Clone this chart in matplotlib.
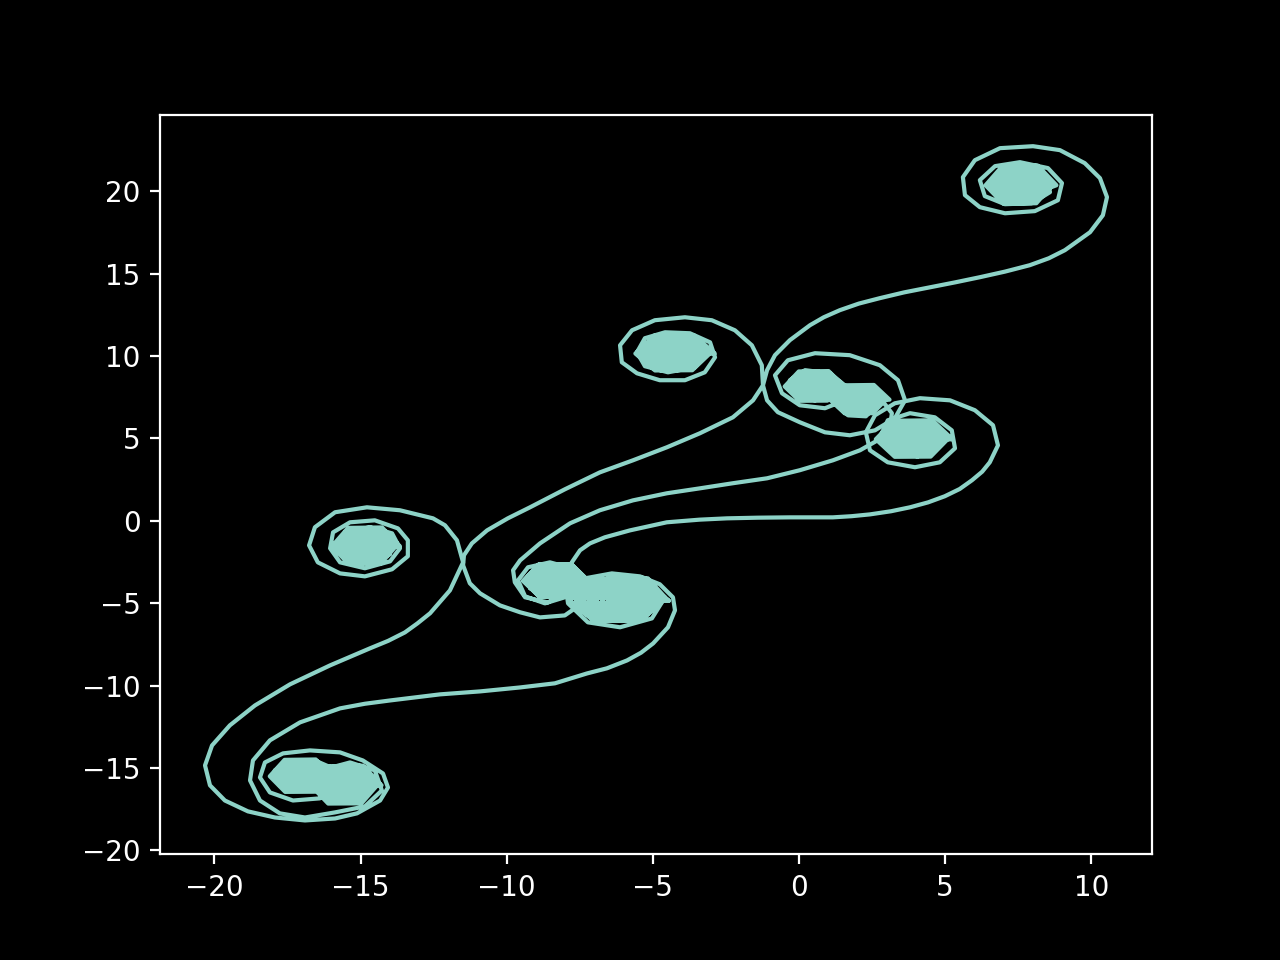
import numpy as np
import matplotlib
matplotlib.use("Agg")
import matplotlib.pyplot as plt

# Curve, in data units, piece by piece.
# Outer turns of every spiral are traced point by point; the tightly wound
# centres (which read as solid blobs) use one typed hexagonal spiral,
# stretched to the size of each blob.

core_unit = [(1.00, 0.00), (0.49, 0.85), (-0.48, 0.83), (-0.94, 0.00), (-0.46, -0.79), (0.45, -0.78),
             (0.88, 0.00), (0.43, 0.74), (-0.42, 0.72), (-0.81, 0.00), (-0.40, -0.69), (0.39, -0.67),
             (0.75, 0.00), (0.36, 0.63), (-0.35, 0.61), (-0.69, 0.00), (-0.33, -0.58), (0.32, -0.56),
             (0.63, 0.00), (0.30, 0.52), (-0.29, 0.51), (-0.56, 0.00), (-0.27, -0.47), (0.26, -0.45),
             (0.50, 0.00), (0.24, 0.41), (-0.23, 0.40), (-0.44, 0.00), (-0.21, -0.36), (0.20, -0.34),
             (0.38, 0.00), (0.18, 0.31), (-0.17, 0.29), (-0.31, 0.00), (-0.15, -0.25), (0.14, -0.23),
             (0.25, 0.00), (0.11, 0.20), (-0.10, 0.18), (-0.19, 0.00), (-0.08, -0.14), (0.07, -0.13),
             (0.13, 0.00), (0.05, 0.09), (-0.04, 0.07), (-0.06, 0.00), (-0.02, -0.04), (0.00, 0.00)]

# blob centres and half sizes (x, y, rx, ry)
core_b = (-14.85, -1.55, 1.20, 1.35)
core_a1 = (-17.07, -15.50, 1.10, 1.20)
core_a2 = (-15.53, -16.05, 1.25, 1.40)
core_c1 = (-8.35, -3.65, 1.15, 1.20)
core_c2 = (-6.20, -4.85, 1.75, 1.55)
core_d = (-4.28, 10.15, 1.40, 1.30)
core_e1 = (0.50, 8.15, 1.05, 1.10)
core_e2 = (2.05, 7.35, 1.05, 1.05)
core_f = (3.90, 4.95, 1.35, 1.35)
core_g = (7.56, 20.36, 1.25, 1.40)

# --- first curve: B -> A -> C -> F ---
spiral_b = [(-14.85, -1.67), (-14.81, -1.37), (-14.54, -1.67), (-14.95, -1.91), (-15.16, -1.43),
            (-14.61, -1.06), (-14.27, -1.55), (-14.68, -2.15), (-15.36, -1.97), (-15.43, -1.18),
            (-14.74, -0.70), (-14.06, -1.06), (-13.99, -2.03), (-14.68, -2.58), (-15.43, -2.40),
            (-15.81, -1.55), (-15.53, -0.70), (-14.68, -0.39), (-13.92, -0.76), (-13.65, -1.67),
            (-13.99, -2.46), (-14.85, -2.88), (-15.70, -2.52), (-16.04, -1.67), (-15.94, -0.70),
            (-15.36, -0.09), (-14.51, 0.03), (-13.72, -0.46), (-13.38, -1.18), (-13.38, -2.15),
            (-13.92, -2.94), (-14.85, -3.37), (-15.70, -3.19), (-16.46, -2.52), (-16.76, -1.49),
            (-16.56, -0.39), (-15.87, 0.52), (-14.78, 0.82), (-13.65, 0.64), (-12.52, 0.15),
            (-12.11, -0.27), (-11.70, -1.18), (-11.49, -2.52)]
arc_b_a = [(-11.94, -4.22), (-12.62, -5.61), (-13.05, -6.22), (-13.48, -6.77), (-14.05, -7.28),
           (-14.68, -7.74), (-15.35, -8.25), (-16.04, -8.77),
           (-17.41, -9.92), (-18.61, -11.20), (-19.47, -12.41), (-20.08, -13.63), (-20.32, -14.84),
           (-20.15, -16.05), (-19.64, -16.97), (-18.85, -17.63), (-17.93, -18.00), (-16.90, -18.18),
           (-15.87, -18.06), (-15.12, -17.75), (-14.33, -16.97), (-14.06, -16.18), (-14.23, -15.33),
           (-14.92, -14.54), (-15.70, -14.05), (-16.73, -13.93), (-17.65, -14.11), (-18.27, -14.66),
           (-18.44, -15.57), (-18.10, -16.48), (-17.31, -16.97), (-16.39, -16.84), (-15.87, -16.05),
           (-15.94, -15.02), (-16.56, -14.54), (-17.41, -14.54), (-17.93, -15.14), (-17.76, -16.05),
           (-17.07, -16.36), (-16.39, -15.87), (-16.32, -15.02), (-17.00, -14.72), (-17.58, -15.27),
           (-17.34, -15.99), (-16.73, -15.81), (-16.80, -15.14), (-17.24, -15.27), (-17.07, -15.57)]
spiral_a2 = [(-15.53, -16.05), (-15.36, -15.75), (-15.12, -16.18), (-15.53, -16.54), (-15.94, -16.05),
             (-15.77, -15.39), (-15.16, -15.27), (-14.74, -16.05), (-15.09, -16.84), (-15.87, -16.97),
             (-16.32, -16.12), (-16.11, -15.02), (-15.36, -14.66), (-14.51, -15.14), (-14.27, -16.36),
             (-14.85, -17.33), (-15.87, -17.69), (-16.90, -18.00), (-17.76, -17.75), (-18.44, -16.97),
             (-18.78, -15.75), (-18.68, -14.54), (-18.10, -13.32), (-17.07, -12.23), (-15.70, -11.38),
             (-14.85, -11.10), (-13.99, -10.90), (-12.28, -10.53), (-10.91, -10.35), (-9.54, -10.11),
             (-8.35, -9.86), (-7.25, -9.26), (-6.57, -8.95), (-5.88, -8.47), (-5.40, -8.00),
             (-4.99, -7.44), (-4.48, -6.46), (-4.24, -5.43), (-4.31, -4.64)]
spiral_c2_in = [(-4.76, -3.85), (-5.44, -3.37), (-6.40, -3.19), (-7.32, -3.49), (-7.90, -4.22),
                (-7.77, -5.13), (-6.98, -5.74), (-5.85, -5.86), (-4.93, -5.43), (-4.65, -4.70),
                (-5.17, -4.10), (-6.06, -3.91), (-6.88, -4.22), (-7.05, -4.95), (-6.40, -5.31),
                (-5.51, -5.13), (-5.34, -4.58), (-5.95, -4.34), (-6.53, -4.64), (-6.12, -4.89)]
spiral_c2_out = [(-6.06, -4.70), (-5.78, -4.83), (-6.06, -5.25), (-6.53, -5.01), (-6.47, -4.22),
                 (-5.85, -4.04), (-5.27, -4.64), (-5.61, -5.55), (-6.47, -5.86), (-7.22, -5.13),
                 (-7.15, -3.91), (-6.29, -3.31), (-5.17, -3.49), (-4.58, -4.64), (-5.03, -5.92),
                 (-6.12, -6.46), (-7.22, -6.16), (-7.90, -5.01), (-8.01, -3.61), (-7.77, -2.52),
                 (-7.49, -1.79), (-7.15, -1.37)]
arc_c_f = [(-6.64, -1.00), (-5.78, -0.58), (-4.52, -0.09), (-3.40, 0.07), (-2.46, 0.15),
           (-1.40, 0.19), (-0.31, 0.21), (1.16, 0.21), (1.80, 0.28), (2.43, 0.39),
           (3.15, 0.58), (3.80, 0.82), (4.42, 1.12), (4.99, 1.49), (5.50, 1.93),
           (5.92, 2.46), (6.27, 2.98), (6.53, 3.55), (6.81, 4.58), (6.64, 5.80),
           (6.02, 6.71), (5.17, 7.31), (4.14, 7.44), (3.28, 7.13), (2.60, 6.40),
           (2.29, 5.37), (2.43, 4.28), (3.04, 3.55), (3.97, 3.25), (4.82, 3.55),
           (5.34, 4.40), (5.23, 5.49), (4.65, 6.28), (3.80, 6.53), (3.04, 6.10),
           (2.77, 5.07), (3.22, 4.16), (4.07, 3.91), (4.82, 4.52), (4.82, 5.49),
           (4.14, 5.92), (3.39, 5.49), (3.35, 4.64), (3.97, 4.40), (3.87, 4.83)]

# --- second curve: D -> C -> E -> G ---
spiral_d = [(-4.24, 10.05), (-4.17, 9.86), (-4.52, 10.05), (-4.14, 10.47), (-3.66, 10.05),
            (-4.07, 9.50), (-4.76, 9.62), (-4.93, 10.47), (-4.34, 10.96), (-3.63, 10.83),
            (-3.22, 10.17), (-3.56, 9.32), (-4.48, 9.01), (-5.27, 9.38), (-5.54, 10.23),
            (-5.27, 11.08), (-4.58, 11.44), (-3.73, 11.38), (-3.04, 10.83), (-2.87, 9.92),
            (-3.22, 9.01), (-3.90, 8.53), (-4.76, 8.53), (-5.54, 8.95), (-6.06, 9.62),
            (-6.12, 10.65), (-5.71, 11.56), (-4.93, 12.17), (-3.90, 12.35), (-2.98, 12.17),
            (-2.19, 11.56), (-1.61, 10.65), (-1.27, 9.44), (-1.23, 8.22)]
arc_d_c = [(-1.57, 7.31), (-2.26, 6.28), (-3.39, 5.31), (-4.52, 4.46), (-5.68, 3.67),
           (-6.81, 2.94), (-8.01, 1.91), (-9.20, 0.82), (-9.96, 0.15), (-10.67, -0.58),
           (-11.19, -1.37), (-11.46, -2.09), (-11.49, -2.70), (-11.26, -3.79), (-10.91, -4.40),
           (-10.23, -5.13), (-9.54, -5.55), (-8.86, -5.86)]
spiral_c1_in = [(-8.01, -5.74), (-7.42, -5.01), (-7.32, -3.91), (-7.77, -2.88), (-8.52, -2.52),
                (-9.27, -2.82), (-9.61, -3.61), (-9.37, -4.58), (-8.69, -5.01), (-8.01, -4.64),
                (-7.83, -3.73), (-8.35, -3.00), (-9.03, -3.19), (-9.20, -4.10), (-8.59, -4.46),
                (-8.18, -3.91), (-8.52, -3.43), (-8.52, -3.79)]
spiral_c1_out = [(-8.79, -3.61), (-8.59, -3.00), (-8.01, -3.31), (-7.94, -4.34), (-8.59, -4.95),
                 (-9.37, -4.64), (-9.72, -3.73), (-9.78, -3.00), (-9.54, -2.40), (-8.86, -1.37)]
arc_c_e = [(-7.83, -0.15), (-6.81, 0.64), (-5.68, 1.24), (-4.52, 1.67), (-3.39, 1.97),
           (-2.26, 2.28), (-1.09, 2.58), (0.03, 3.07), (1.16, 3.67), (2.09, 4.28),
           (2.70, 4.89), (3.11, 5.61), (3.18, 6.53), (2.84, 7.31), (2.26, 7.80)]
spiral_e2 = [(1.57, 7.68), (1.33, 6.95), (1.68, 6.40), (2.29, 6.34), (2.63, 6.95),
             (2.36, 7.50), (1.85, 7.44), (1.81, 6.89), (2.22, 6.83), (2.16, 7.25)]
spiral_e1 = [(0.55, 8.04), (0.79, 8.16), (0.55, 7.74), (0.14, 8.04), (0.44, 8.65),
             (1.06, 8.53), (1.16, 7.68), (0.55, 7.31), (-0.14, 7.62), (-0.31, 8.53),
             (0.21, 9.14), (1.06, 8.95), (1.57, 8.22), (1.57, 7.31), (0.89, 6.83),
             (0.03, 7.01), (-0.58, 7.74), (-0.82, 8.83), (-0.38, 9.74), (0.55, 10.17),
             (1.74, 10.05), (2.77, 9.44), (3.39, 8.53), (3.63, 7.31), (3.28, 6.22),
             (2.60, 5.49), (1.74, 5.19), (0.89, 5.37), (0.03, 5.98), (-0.72, 6.59),
             (-1.09, 7.31), (-1.23, 8.22)]
arc_e_g = [(-1.09, 9.14), (-0.82, 10.05), (-0.31, 10.96), (0.38, 11.87), (0.85, 12.35),
           (1.40, 12.78), (2.05, 13.18), (2.77, 13.51), (3.60, 13.86), (4.48, 14.17),
           (5.35, 14.47), (6.19, 14.78), (7.05, 15.12), (7.90, 15.51), (8.55, 15.93),
           (9.10, 16.42), (9.96, 17.51), (10.40, 18.54), (10.54, 19.64), (10.30, 20.79),
           (9.78, 21.70), (8.93, 22.49), (8.01, 22.73), (6.88, 22.61), (6.02, 21.88),
           (5.61, 20.85), (5.68, 19.76), (6.19, 19.03), (7.05, 18.66), (8.07, 18.79),
           (8.86, 19.45), (9.00, 20.49), (8.52, 21.40), (7.56, 21.76), (6.71, 21.52),
           (6.19, 20.67), (6.36, 19.70), (7.05, 19.21), (7.97, 19.27), (8.59, 19.94),
           (8.48, 20.85), (7.73, 21.27), (6.98, 21.03), (6.64, 20.30), (7.05, 19.64), (7.83, 19.70)]


def core(blob, outward=False):
    cx, cy, rx, ry = blob
    pts = [(cx + rx * u, cy + ry * v) for u, v in core_unit]
    return pts[::-1] if outward else pts


curve_one = np.array(core(core_b, outward=True) + spiral_b + arc_b_a + core(core_a1)
                     + core(core_a2, outward=True) + spiral_a2 + spiral_c2_in + core(core_c2)
                     + core(core_c2, outward=True) + spiral_c2_out + arc_c_f + core(core_f))
curve_two = np.array(core(core_d, outward=True) + spiral_d + arc_d_c + spiral_c1_in + core(core_c1)
                     + core(core_c1, outward=True) + spiral_c1_out + arc_c_e + spiral_e2
                     + core(core_e2) + core(core_e1, outward=True) + spiral_e1 + arc_e_g
                     + core(core_g))

plt.style.use('dark_background')
fig, ax = plt.subplots(figsize=(6.4, 4.8), dpi=200)

ax.plot(curve_one[:, 0], curve_one[:, 1], color='C0')
ax.plot(curve_two[:, 0], curve_two[:, 1], color='C0')

ax.set_xlim(-21.86, 12.08)
ax.set_ylim(-20.24, 24.61)
ax.set_xticks([-20, -15, -10, -5, 0, 5, 10])
ax.set_yticks([-20, -15, -10, -5, 0, 5, 10, 15, 20])

fig.savefig('out.png', dpi=200)
